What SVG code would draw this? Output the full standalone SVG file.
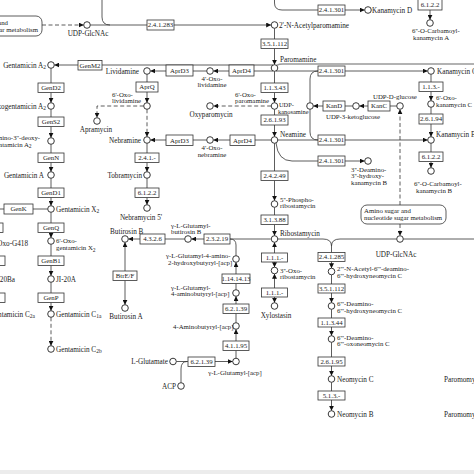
<svg xmlns="http://www.w3.org/2000/svg" width="474" height="474" viewBox="0 0 474 474">
<defs>
<style>
.t{font-family:"Liberation Serif","Times New Roman",serif;font-size:7.2px;fill:#1a1a1a}
.s{font-size:6.8px}
.bt{font-family:"Liberation Serif","Times New Roman",serif;font-size:6.8px;fill:#1a1a1a;text-anchor:middle}
.e{text-anchor:end}.m{text-anchor:middle}
.bx{fill:#fff;stroke:#333;stroke-width:0.8}
.mp{fill:#fff;stroke:#333;stroke-width:0.8}
.c{fill:#fff;stroke:#222;stroke-width:0.9}
.ln path{fill:none;stroke:#333;stroke-width:0.8}
.ln .d{stroke-dasharray:4 2.5}
.ln .g{stroke:#999;stroke-width:1.3}
</style>
<marker id="a" viewBox="0 0 6 6" refX="6" refY="3" markerWidth="5" markerHeight="5" orient="auto" markerUnits="userSpaceOnUse"><path d="M0,0 L6,3 L0,6 z" fill="#111"/></marker>
</defs>
<rect width="474" height="474" fill="#fff"/>
<rect y="470" width="474" height="4" fill="#ececec"/>

<g id="connectors" class="ln">
<path class="d" d="M42,25 H83.7" marker-end="url(#a)"/>
<path d="M90.3,25 H147"/>
<path d="M102,0 V17 Q102,25 110,25"/>
<path d="M174,25 H271.2" marker-end="url(#a)"/>
<path d="M274.5,28.3 V39"/>
<path d="M274.5,48.5 V64.7" marker-end="url(#a)"/>
<path d="M274.5,0 V3 Q274.5,10 282,10 H318"/>
<path d="M345,10 H364.7" marker-end="url(#a)"/>
<path d="M430,10 V19.7" marker-end="url(#a)"/>
<path d="M273.1,65 H102"/>
<path d="M78,65 H54.3" marker-end="url(#a)"/>
<path d="M273.1,71 H254"/>
<path d="M229,71 H213.3" marker-end="url(#a)"/>
<path d="M206.7,71 H193"/>
<path d="M166,71 H150.3" marker-end="url(#a)"/>
<path d="M275.9,71 H318"/>
<path d="M345,71 H427.7" marker-end="url(#a)"/>
<path class="g" d="M276.5,65.3 Q279,64 283,64 H474"/>
<path d="M431,74.3 V82"/>
<path d="M431,91.5 V100.7" marker-end="url(#a)"/>
<path d="M431,107.3 V114"/>
<path d="M431,124 V136.7" marker-end="url(#a)"/>
<path d="M431,143.3 V152"/>
<path d="M431,161.5 V167.7" marker-end="url(#a)"/>
<path d="M310,102.7 V79 Q310,71 318,71"/>
<path d="M310,109.3 V132 Q310,140 318,140"/>
<path d="M323,106 H313.3" marker-end="url(#a)"/>
<path d="M352.7,106 H345"/>
<path d="M368,106 H359.3" marker-end="url(#a)"/>
<path d="M390,106 H396.7"/>
<path class="d" d="M400,205 V109.3" marker-end="url(#a)"/>
<path class="d" d="M400,224 V235.7" marker-end="url(#a)"/>
<path d="M403.3,239 H474"/>
<path d="M396.7,239 H340 Q331.5,239 331.5,246 V252.5"/>
<path d="M277.8,239 H323 Q331.5,239 331.5,246"/>
<path d="M274.5,71.3 V83"/>
<path d="M274.5,92.5 V102.7" marker-end="url(#a)"/>
<path class="d" d="M271.2,106 H213.3" marker-end="url(#a)"/>
<path d="M274.5,109.3 V115"/>
<path d="M274.5,125 V136.7" marker-end="url(#a)"/>
<path d="M271.2,140 H255"/>
<path d="M230,140 H213.3" marker-end="url(#a)"/>
<path d="M206.7,140 H193"/>
<path d="M166,140 H150.3" marker-end="url(#a)"/>
<path d="M277.8,140 H318"/>
<path d="M345,140 H427.7" marker-end="url(#a)"/>
<path d="M276,143 Q278,161 292,161 H318"/>
<path d="M345,161 H364.7" marker-end="url(#a)"/>
<path d="M274.5,143.3 V171"/>
<path d="M274.5,180.5 V200.7" marker-end="url(#a)"/>
<path d="M274.5,207.3 V215"/>
<path d="M274.5,224.5 V235.7" marker-end="url(#a)"/>
<path d="M147,74.3 V82"/>
<path d="M147,92 V102.7" marker-end="url(#a)"/>
<path class="d" d="M143.7,106 H97 V117.7" marker-end="url(#a)"/>
<path class="d" d="M147,109.3 V136.7" marker-end="url(#a)"/>
<path d="M147,143.3 V153"/>
<path d="M147,162.5 V171.7" marker-end="url(#a)"/>
<path d="M147,178.3 V188"/>
<path d="M147,197.5 V204.7" marker-end="url(#a)"/>
<path d="M51,68.3 V83"/>
<path d="M51,92.5 V102.7" marker-end="url(#a)"/>
<path d="M51,109.3 V117"/>
<path d="M51,126.5 V137.7" marker-end="url(#a)"/>
<path d="M51,144.3 V153"/>
<path d="M51,162.5 V171.7" marker-end="url(#a)"/>
<path d="M51,178.3 V188"/>
<path d="M51,197.5 V205.7" marker-end="url(#a)"/>
<path d="M47.7,209 H33"/>
<path d="M4,209 H0"/>
<path d="M51,212.3 V223"/>
<path d="M51,232.5 V237.7" marker-end="url(#a)"/>
<path d="M51,244.3 V256"/>
<path d="M51,265.5 V275.7" marker-end="url(#a)"/>
<path d="M51,282.3 V293"/>
<path d="M51,302.5 V310.7" marker-end="url(#a)"/>
<path class="d" d="M51,317.3 V345.7" marker-end="url(#a)"/>
<path d="M270.7,239 H230"/>
<path d="M204,239 H191.3" marker-end="url(#a)"/>
<path d="M184.7,239 H165"/>
<path d="M140,239 H128.3" marker-end="url(#a)"/>
<path d="M236,255.7 V245 Q236,239 230,239"/>
<path d="M125,271 V242.3" marker-end="url(#a)"/>
<path d="M125,280.5 V304.7" marker-end="url(#a)"/>
<path d="M274.5,253 V242.3" marker-end="url(#a)"/>
<path d="M274.5,262 V267.2" marker-end="url(#a)"/>
<path d="M274.5,288 V273.8" marker-end="url(#a)"/>
<path d="M274.5,297 V302.7" marker-end="url(#a)"/>
<path d="M236,274 V262.3" marker-end="url(#a)"/>
<path d="M236,283.5 V289.7"/>
<path d="M236,304 V296.3" marker-end="url(#a)"/>
<path d="M236,313.5 V322.7"/>
<path d="M236,341 V329.3" marker-end="url(#a)"/>
<path d="M236,350.5 V358.2"/>
<path d="M215,361.5 H232.7" marker-end="url(#a)"/>
<path d="M176.3,361.5 H188"/>
<path d="M181,382.7 V369 Q181,361.5 187,361.5"/>
<path d="M331.5,261.5 V268.2" marker-end="url(#a)"/>
<path d="M331.5,274.8 V284"/>
<path d="M331.5,293 V302.7" marker-end="url(#a)"/>
<path d="M331.5,309.3 V318"/>
<path d="M331.5,327 V335.7" marker-end="url(#a)"/>
<path d="M331.5,342.3 V357"/>
<path d="M331.5,366 V375.7" marker-end="url(#a)"/>
<path d="M331.5,382.3 V391"/>
<path d="M331.5,400 V410.7" marker-end="url(#a)"/>
</g>

<!-- map links -->
<g id="map-amino-sugar-1"><rect class="mp" x="-60" y="16" width="102" height="20" rx="6"/><text class="t e s" x="8" y="24.5">Amino sugar and</text><text class="t e s" x="38" y="32">nucleotide sugar metabolism</text></g>
<g id="map-amino-sugar-2"><rect class="mp" x="361" y="205" width="85" height="19" rx="6"/><text class="t s" x="364" y="212.5">Amino sugar and</text><text class="t s" x="364" y="220">nucleotide sugar metabolism</text></g>

<!-- enzyme boxes -->
<g id="e-2.4.1.283"><rect class="bx" x="147" y="20" width="27" height="10"/><text class="bt" x="160.5" y="27.4">2.4.1.283</text></g>
<g id="e-3.5.1.112a"><rect class="bx" x="261" y="39" width="27" height="9.5"/><text class="bt" x="274.5" y="46.2">3.5.1.112</text></g>
<g id="e-2.4.1.301a"><rect class="bx" x="318" y="5" width="27" height="10"/><text class="bt" x="331.5" y="12.4">2.4.1.301</text></g>
<g id="e-6.1.2.2a"><rect class="bx" x="418" y="-1" width="24" height="11"/><text class="bt" x="430" y="6.9">6.1.2.2</text></g>
<g id="e-1.1.3.43"><rect class="bx" x="261" y="83" width="27" height="9.5"/><text class="bt" x="274.5" y="90.2">1.1.3.43</text></g>
<g id="e-2.6.1.93"><rect class="bx" x="261" y="115" width="27" height="10"/><text class="bt" x="274.5" y="122.4">2.6.1.93</text></g>
<g id="e-2.4.1.301b"><rect class="bx" x="318" y="66" width="27" height="10"/><text class="bt" x="331.5" y="73.4">2.4.1.301</text></g>
<g id="e-2.4.1.301c"><rect class="bx" x="318" y="135" width="27" height="10"/><text class="bt" x="331.5" y="142.4">2.4.1.301</text></g>
<g id="e-2.4.1.301d"><rect class="bx" x="318" y="156" width="27" height="10"/><text class="bt" x="331.5" y="163.4">2.4.1.301</text></g>
<g id="e-1.1.3.x"><rect class="bx" x="419" y="82" width="24" height="9.5"/><text class="bt" x="431" y="89.2">1.1.3.-</text></g>
<g id="e-2.6.1.94"><rect class="bx" x="419" y="114" width="24" height="10"/><text class="bt" x="431" y="121.4">2.6.1.94</text></g>
<g id="e-6.1.2.2b"><rect class="bx" x="419" y="152" width="24" height="9.5"/><text class="bt" x="431" y="159.2">6.1.2.2</text></g>
<g id="e-KanD"><rect class="bx" x="323" y="101" width="22" height="10"/><text class="bt" x="334" y="108.4">KanD</text></g>
<g id="e-KanC"><rect class="bx" x="368" y="101" width="22" height="10"/><text class="bt" x="379" y="108.4">KanC</text></g>
<g id="e-AprD4a"><rect class="bx" x="229" y="65" width="25" height="11"/><text class="bt" x="241.5" y="72.9">AprD4</text></g>
<g id="e-AprD3a"><rect class="bx" x="166" y="65" width="27" height="11"/><text class="bt" x="179.5" y="72.9">AprD3</text></g>
<g id="e-AprQ"><rect class="bx" x="136" y="82" width="22" height="10"/><text class="bt" x="147" y="89.4">AprQ</text></g>
<g id="e-AprD4b"><rect class="bx" x="230" y="135" width="25" height="10.5"/><text class="bt" x="242.5" y="142.6">AprD4</text></g>
<g id="e-AprD3b"><rect class="bx" x="166" y="135" width="27" height="10.5"/><text class="bt" x="179.5" y="142.6">AprD3</text></g>
<g id="e-2.4.1.x"><rect class="bx" x="135" y="153" width="24" height="9.5"/><text class="bt" x="147" y="160.2">2.4.1.-</text></g>
<g id="e-6.1.2.2c"><rect class="bx" x="135" y="188" width="24" height="9.5"/><text class="bt" x="147" y="195.2">6.1.2.2</text></g>
<g id="e-GenM2"><rect class="bx" x="78" y="60.5" width="24" height="9.5"/><text class="bt" x="90" y="67.6">GenM2</text></g>
<g id="e-GenD2"><rect class="bx" x="38" y="83" width="26" height="9.5"/><text class="bt" x="51" y="90.2">GenD2</text></g>
<g id="e-GenS2"><rect class="bx" x="38" y="117" width="26" height="9.5"/><text class="bt" x="51" y="124.2">GenS2</text></g>
<g id="e-GenN"><rect class="bx" x="38" y="153" width="26" height="9.5"/><text class="bt" x="51" y="160.2">GenN</text></g>
<g id="e-GenD1"><rect class="bx" x="38" y="188" width="26" height="9.5"/><text class="bt" x="51" y="195.2">GenD1</text></g>
<g id="e-GenK"><rect class="bx" x="4" y="204" width="29" height="10"/><text class="bt" x="18.5" y="211.4">GenK</text></g>
<g id="e-GenQ"><rect class="bx" x="38" y="223" width="26" height="9.5"/><text class="bt" x="51" y="230.2">GenQ</text></g>
<g id="e-GenB1"><rect class="bx" x="38" y="256" width="26" height="9.5"/><text class="bt" x="51" y="263.2">GenB1</text></g>
<g id="e-GenP"><rect class="bx" x="38" y="293" width="26" height="9.5"/><text class="bt" x="51" y="300.2">GenP</text></g>
<g id="e-left1"><rect class="bx" x="-20" y="223" width="23" height="9.5"/></g>
<g id="e-left2"><rect class="bx" x="-20" y="256" width="25" height="9.5"/></g>
<g id="e-left3"><rect class="bx" x="-20" y="293" width="25" height="9.5"/></g>
<g id="e-2.4.2.49"><rect class="bx" x="261" y="171" width="27" height="9.5"/><text class="bt" x="274.5" y="178.2">2.4.2.49</text></g>
<g id="e-3.1.3.88"><rect class="bx" x="261" y="215" width="27" height="9.5"/><text class="bt" x="274.5" y="222.2">3.1.3.88</text></g>
<g id="e-1.1.1.xa"><rect class="bx" x="261.5" y="253" width="26" height="9"/><text class="bt" x="274.5" y="259.9">1.1.1.-</text></g>
<g id="e-1.1.1.xb"><rect class="bx" x="261.5" y="288" width="26" height="9"/><text class="bt" x="274.5" y="294.9">1.1.1.-</text></g>
<g id="e-2.3.2.19"><rect class="bx" x="204" y="234" width="26" height="10"/><text class="bt" x="217" y="241.4">2.3.2.19</text></g>
<g id="e-4.3.2.6"><rect class="bx" x="140" y="234" width="25" height="10"/><text class="bt" x="152.5" y="241.4">4.3.2.6</text></g>
<g id="e-BtrEF"><rect class="bx" x="113" y="271" width="24" height="9.5"/><text class="bt" x="125" y="278.2">BtrE/F</text></g>
<g id="e-1.14.14.13"><rect class="bx" x="222" y="274" width="28" height="9.5"/><text class="bt" x="236" y="281.2">1.14.14.13</text></g>
<g id="e-6.2.1.39a"><rect class="bx" x="223" y="304" width="26" height="9.5"/><text class="bt" x="236" y="311.2">6.2.1.39</text></g>
<g id="e-4.1.1.95"><rect class="bx" x="223" y="341" width="26" height="9.5"/><text class="bt" x="236" y="348.2">4.1.1.95</text></g>
<g id="e-6.2.1.39b"><rect class="bx" x="188" y="357" width="27" height="9.5"/><text class="bt" x="201.5" y="364.2">6.2.1.39</text></g>
<g id="e-2.4.1.285"><rect class="bx" x="318" y="252.5" width="27" height="9"/><text class="bt" x="331.5" y="259.4">2.4.1.285</text></g>
<g id="e-3.5.1.112b"><rect class="bx" x="318" y="284" width="27" height="9"/><text class="bt" x="331.5" y="290.9">3.5.1.112</text></g>
<g id="e-1.1.3.44"><rect class="bx" x="318" y="318" width="27" height="9"/><text class="bt" x="331.5" y="324.9">1.1.3.44</text></g>
<g id="e-2.6.1.95"><rect class="bx" x="318" y="357" width="27" height="9"/><text class="bt" x="331.5" y="363.9">2.6.1.95</text></g>
<g id="e-5.1.3.x"><rect class="bx" x="318" y="391" width="27" height="9"/><text class="bt" x="331.5" y="397.9">5.1.3.-</text></g>

<!-- compounds -->
<g id="c-udpglcnac1"><circle class="c" cx="87" cy="25" r="3.3"/><text class="t m" x="88" y="35.5">UDP-GlcNAc</text></g>
<g id="c-acpar"><circle class="c" cx="274.5" cy="25" r="3.3"/><text class="t" x="279" y="28">2'-N-Acetylparomamine</text></g>
<g id="c-kanD"><circle class="c" cx="368" cy="10" r="3.3"/><text class="t" x="372" y="12.5">Kanamycin D</text></g>
<g id="c-carbA"><circle class="c" cx="430" cy="23" r="3.3"/><text class="t s" x="412" y="32.5">6''-O-Carbamoyl-</text><text class="t s" x="413" y="40">kanamycin A</text></g>
<g id="c-paro"><circle class="c" cx="274.5" cy="68" r="3.3"/><text class="t" x="280" y="62">Paromamine</text></g>
<g id="c-kanC"><circle class="c" cx="431" cy="71" r="3.3"/><text class="t" x="437" y="73.5">Kanamycin C</text></g>
<g id="c-oxokanC"><circle class="c" cx="431" cy="104" r="3.3"/><text class="t s" x="436" y="100">6'-Oxo-</text><text class="t s" x="436" y="107">kanamycin C</text></g>
<g id="c-kanB"><circle class="c" cx="431" cy="140" r="3.3"/><text class="t" x="436" y="137">Kanamycin B</text></g>
<g id="c-carbB"><circle class="c" cx="431" cy="171" r="3.3"/><text class="t s" x="414" y="186">6''-O-Carbamoyl-</text><text class="t s" x="416" y="193">kanamycin B</text></g>
<g id="c-udpkan"><circle class="c" cx="310" cy="106" r="3.3"/><text class="t" x="279" y="107" style="font-size:6.4px">UDP-</text><text class="t" x="278" y="114" style="font-size:6.4px">kanosamine</text></g>
<g id="c-udp3k"><circle class="c" cx="356" cy="106" r="3.3"/><text class="t s" x="326" y="118.5">UDP-3-ketoglucose</text></g>
<g id="c-udpglc"><circle class="c" cx="400" cy="106" r="3.3"/><text class="t s" x="373" y="99">UDP-D-glucose</text></g>
<g id="c-deamkanB"><circle class="c" cx="368" cy="161" r="3.3"/><text class="t s" x="351" y="171.5">3''-Deamino-</text><text class="t s" x="351" y="178">3''-hydroxy-</text><text class="t s" x="351" y="184.5">kanamycin B</text></g>
<g id="c-oxoparo"><circle class="c" cx="274.5" cy="106" r="3.3"/><text class="t s" x="235" y="96.5">6'-Oxo-</text><text class="t s" x="235" y="103">paromamine</text></g>
<g id="c-oxypar"><circle class="c" cx="210" cy="106" r="3.3"/><text class="t m" x="211" y="116.5">Oxyparomycin</text></g>
<g id="c-neamine"><circle class="c" cx="274.5" cy="140" r="3.3"/><text class="t" x="280" y="136.5">Neamine</text></g>
<g id="c-oxoliv"><circle class="c" cx="210" cy="71" r="3.3"/><text class="t m s" x="212" y="80.5">4'-Oxo-</text><text class="t m s" x="212" y="87">lividamine</text></g>
<g id="c-liv"><circle class="c" cx="147" cy="71" r="3.3"/><text class="t e" x="139" y="73.5">Lividamine</text></g>
<g id="c-oxolivi"><circle class="c" cx="147" cy="106" r="3.3"/><text class="t s" x="112" y="96.5">6'-Oxo-</text><text class="t s" x="112" y="103">lividamine</text></g>
<g id="c-apra"><circle class="c" cx="97" cy="121" r="3.3"/><text class="t m" x="96" y="131.5">Apramycin</text></g>
<g id="c-nebramine"><circle class="c" cx="147" cy="140" r="3.3"/><text class="t e" x="141" y="142.5">Nebramine</text></g>
<g id="c-oxoneb"><circle class="c" cx="210" cy="140" r="3.3"/><text class="t m s" x="212" y="150">4'-Oxo-</text><text class="t m s" x="212" y="156.5">nebramine</text></g>
<g id="c-tobra"><circle class="c" cx="147" cy="175" r="3.3"/><text class="t e" x="142" y="177.5">Tobramycin</text></g>
<g id="c-nebra5"><circle class="c" cx="147" cy="208" r="3.3"/><text class="t m" x="141" y="220">Nebramycin 5'</text></g>
<g id="c-phribo"><circle class="c" cx="274.5" cy="204" r="3.3"/><text class="t s" x="280" y="201.5">5''-Phospho-</text><text class="t s" x="280" y="208">ribostamycin</text></g>
<g id="c-ribo"><circle class="c" cx="274.5" cy="239" r="3.3"/><text class="t" x="280" y="236">Ribostamycin</text></g>
<g id="c-oxoribo"><circle class="c" cx="274.5" cy="270.5" r="3.3"/><text class="t s" x="280" y="272.5">3''-Oxo-</text><text class="t s" x="280" y="279">ribostamycin</text></g>
<g id="c-xylo"><circle class="c" cx="274.5" cy="306" r="3.3"/><text class="t m" x="276" y="317.5">Xylostasin</text></g>
<g id="c-glubutB"><circle class="c" cx="188" cy="239" r="3.3"/><text class="t s" x="171" y="227.5">γ-L-Glutamyl-</text><text class="t s" x="171" y="234">butirosin B</text></g>
<g id="c-butB"><circle class="c" cx="125" cy="239" r="3.3"/><text class="t" x="110" y="234">Butirosin B</text></g>
<g id="c-butA"><circle class="c" cx="125" cy="308" r="3.3"/><text class="t m" x="126" y="318.5">Butirosin A</text></g>
<g id="c-ghb"><circle class="c" cx="236" cy="259" r="3.3"/><text class="t s" x="166" y="258">γ-L-Glutamyl-4-amino-</text><text class="t s" x="168" y="264.5">2-hydroxybutyryl-[acp]</text></g>
<g id="c-gab"><circle class="c" cx="236" cy="293" r="3.3"/><text class="t s" x="171" y="289.5">γ-L-Glutamyl-</text><text class="t s" x="171" y="296">4-aminobutyryl-[acp]</text></g>
<g id="c-ab"><circle class="c" cx="236" cy="326" r="3.3"/><text class="t s" x="173" y="328.5">4-Aminobutyryl-[acp]</text></g>
<g id="c-gacp"><circle class="c" cx="236" cy="361.5" r="3.3"/><text class="t m s" x="235" y="374.5">γ-L-Glutamyl-[acp]</text></g>
<g id="c-glu"><circle class="c" cx="173" cy="361.5" r="3.3"/><text class="t e" x="168" y="364">L-Glutamate</text></g>
<g id="c-acp"><circle class="c" cx="181" cy="386" r="3.3"/><text class="t e" x="176" y="388.5">ACP</text></g>
<g id="c-udpglcnac2"><circle class="c" cx="400" cy="239" r="3.3"/><text class="t m" x="396" y="256.5">UDP-GlcNAc</text></g>
<g id="c-acneo"><circle class="c" cx="331.5" cy="271.5" r="3.3"/><text class="t s" x="337" y="271">2'''-N-Acetyl-6'''-deamino-</text><text class="t s" x="337" y="277.5">6'''-hydroxyneomycin C</text></g>
<g id="c-hyneo"><circle class="c" cx="331.5" cy="306" r="3.3"/><text class="t s" x="337" y="306">6'''-Deamino-</text><text class="t s" x="337" y="312.5">6'''-hydroxyneomycin C</text></g>
<g id="c-oxoneo"><circle class="c" cx="331.5" cy="339" r="3.3"/><text class="t s" x="337" y="339.5">6'''-Deamino-</text><text class="t s" x="337" y="346">6'''-oxoneomycin C</text></g>
<g id="c-neoC"><circle class="c" cx="331.5" cy="379" r="3.3"/><text class="t" x="337" y="381.5">Neomycin C</text></g>
<g id="c-neoB"><circle class="c" cx="331.5" cy="414" r="3.3"/><text class="t" x="337" y="416.5">Neomycin B</text></g>
<g id="c-paromo1"><text class="t" x="444" y="381.5">Paromomycin</text></g>
<g id="c-paromo2"><text class="t" x="444" y="416.5">Paromomycin</text></g>
<g id="c-genA2"><circle class="c" cx="51" cy="65" r="3.3"/><text class="t e" x="46" y="67.5">Gentamicin A<tspan font-size="5.5" dy="1.5">2</tspan></text></g>
<g id="c-oxoA2"><circle class="c" cx="51" cy="106" r="3.3"/><text class="t e" x="46" y="108.5">3''-Dehydro-3''-oxogentamicin A<tspan font-size="5.5" dy="1.5">2</tspan></text></g>
<g id="c-aminoA2"><circle class="c" cx="51" cy="141" r="3.3"/><text class="t m s" x="12" y="139.5">3''-Amino-3''-deoxy-</text><text class="t m s" x="12" y="146.5">gentamicin A<tspan font-size="5.5" dy="1.5">2</tspan></text></g>
<g id="c-genA"><circle class="c" cx="51" cy="175" r="3.3"/><text class="t e" x="44" y="177.5">Gentamicin A</text></g>
<g id="c-genX2"><circle class="c" cx="51" cy="209" r="3.3"/><text class="t" x="56" y="211.5">Gentamicin X<tspan font-size="5.5" dy="1.5">2</tspan></text></g>
<g id="c-oxoX2"><circle class="c" cx="51" cy="241" r="3.3"/><text class="t s" x="56" y="243">6'-Oxo-</text><text class="t s" x="56" y="250">gentamicin X<tspan font-size="5.5" dy="1.5">2</tspan></text></g>
<g id="c-oxoG418"><text class="t e" x="28" y="246">6'-Oxo-G418</text></g>
<g id="c-ji20a"><circle class="c" cx="51" cy="279" r="3.3"/><text class="t" x="56" y="281.5">JI-20A</text></g>
<g id="c-ji20ba"><text class="t e" x="15" y="281.5">JI-20Ba</text></g>
<g id="c-c1a"><circle class="c" cx="51" cy="314" r="3.3"/><text class="t" x="56" y="316.5">Gentamicin C<tspan font-size="5.5" dy="1.5">1a</tspan></text></g>
<g id="c-c2a"><text class="t e" x="35" y="316.5">Gentamicin C<tspan font-size="5.5" dy="1.5">2a</tspan></text></g>
<g id="c-c2b"><circle class="c" cx="51" cy="349" r="3.3"/><text class="t" x="56" y="351.5">Gentamicin C<tspan font-size="5.5" dy="1.5">2b</tspan></text></g>
</svg>
